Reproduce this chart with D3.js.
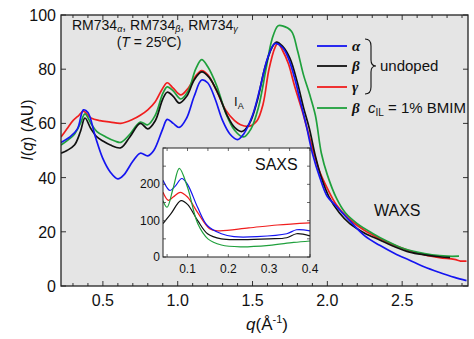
<!DOCTYPE html>
<html lang="en">
<head>
<meta charset="UTF-8">
<title>RM734 X-ray scattering</title>
<script src="https://d3js.org/d3.v7.min.js"></script>
<style>
  body { margin: 0; background: #fff; }
  svg { display: block; font-family: "Liberation Sans", Arial, sans-serif; }
  .tick-label { font-size: 16px; fill: #111; }
  .inset-label { font-size: 12px; fill: #111; }
  .greek { font-family: "Liberation Serif", serif; font-style: italic; font-weight: bold; font-size: 15px; }
</style>
</head>
<body>
<svg width="474" height="339"></svg>
<script>
// main WAXS curves, [q (1/A), I (AU)]
const alphaMain = [[0.22,53],[0.28,55],[0.33,58],[0.37,65],[0.40,64],[0.45,55],[0.50,47],[0.55,42],[0.60,39.5],[0.64,41],
  [0.70,46],[0.75,49],[0.80,48],[0.84,50],[0.90,58],[0.93,61.5],[0.97,60],[1.01,58.5],[1.06,62],[1.11,70],[1.16,76],
  [1.20,75],[1.25,69],[1.30,61],[1.35,56],[1.40,54],[1.44,56],[1.50,63],[1.55,73],[1.60,84],[1.65,89.5],[1.70,88],
  [1.74,84],[1.78,77],[1.82,68],[1.86,59],[1.90,49],[1.95,40],[2.00,33],[2.05,30],[2.10,27],[2.15,24],[2.25,18.5],
  [2.35,15],[2.45,12],[2.55,9.5],[2.65,7],[2.75,5],[2.85,3.2],[2.93,2]];
const betaMain = [[0.22,49],[0.26,50],[0.31,52],[0.35,57],[0.38,62],[0.42,58],[0.46,55],[0.50,53.5],[0.55,52],[0.62,51],
  [0.68,55],[0.75,60],[0.80,58],[0.85,61],[0.90,69],[0.93,71.5],[0.97,70],[1.01,67.5],[1.06,70],[1.11,76],[1.16,79],
  [1.21,77],[1.27,71],[1.33,63],[1.38,58.5],[1.43,57],[1.48,60],[1.53,68],[1.58,80],[1.63,88],[1.66,90],[1.70,88.5],
  [1.75,84],[1.80,75],[1.84,66],[1.88,58],[1.92,48],[1.96,40],[2.01,33],[2.08,27],[2.15,23],[2.25,19.5],[2.35,17],
  [2.45,14.5],[2.55,12.5],[2.65,11.5],[2.75,10.8],[2.82,10.5]];
const gammaMain = [[0.22,55],[0.26,58],[0.30,61],[0.34,63],[0.37,64.5],[0.42,62],[0.48,61],[0.55,60.5],[0.62,60],[0.70,61.5],
  [0.75,63],[0.80,65],[0.85,68],[0.90,73],[0.93,75],[0.97,73],[1.02,70.5],[1.07,73],[1.12,77.5],[1.16,79.5],[1.20,78],
  [1.26,72],[1.32,65],[1.38,61],[1.42,59.5],[1.48,59],[1.53,61],[1.57,67],[1.61,80],[1.65,88],[1.67,89.5],[1.70,87],
  [1.74,82],[1.78,74],[1.83,65],[1.87,57],[1.91,49],[1.95,42],[2.00,36],[2.06,30],[2.14,25],[2.25,20.5],[2.35,17.5],
  [2.45,15],[2.55,13],[2.65,11.5],[2.75,10.5],[2.85,9.8],[2.89,9.2],[2.93,9.2]];
const betaILMain = [[0.22,52],[0.27,54],[0.31,56],[0.35,60],[0.38,63.5],[0.42,60],[0.46,57],[0.52,55],[0.58,53.5],[0.62,53],
  [0.68,56],[0.75,60.5],[0.80,59.5],[0.85,63],[0.90,71],[0.93,73.5],[0.97,72],[1.02,69],[1.07,72],[1.12,80],[1.16,83.5],
  [1.20,81],[1.26,74],[1.32,64],[1.38,57.5],[1.44,55],[1.49,58],[1.54,66],[1.59,80],[1.63,91],[1.67,96],[1.70,96],
  [1.76,94],[1.80,87],[1.84,78],[1.88,71],[1.92,63],[1.96,49],[2.00,41],[2.06,32.5],[2.12,27],[2.20,23],[2.30,19.5],
  [2.40,16.5],[2.50,14],[2.60,12.5],[2.70,11.5],[2.80,11],[2.88,11]];

// SAXS inset curves
const alphaInset = [[0.04,211],[0.057,183],[0.07,195],[0.086,216],[0.10,200],[0.125,136],[0.149,86],[0.183,64],[0.214,56],
  [0.27,56],[0.343,64],[0.367,75],[0.40,72]];
const betaInset = [[0.04,92],[0.06,120],[0.084,155],[0.10,145],[0.125,100],[0.149,64],[0.183,50],[0.23,48],[0.30,50],
  [0.343,53],[0.367,64],[0.40,58]];
const gammaInset = [[0.04,178],[0.053,156],[0.065,165],[0.082,178],[0.10,165],[0.125,122],[0.154,78],[0.175,72],[0.25,80],
  [0.32,88],[0.40,94]];
const betaILInset = [[0.04,155],[0.05,137],[0.065,190],[0.08,244],[0.10,192],[0.125,92],[0.15,50],[0.183,33],[0.23,28],
  [0.30,32],[0.36,40],[0.40,44]];

const mainXTicks = [0.5, 1.0, 1.5, 2.0, 2.5];
const mainYTicks = [0, 20, 40, 60, 80, 100];
const insetXTicks = [0.1, 0.2, 0.3, 0.4];
const insetYTicks = [0, 100, 200];

const colors = { alpha: "#1515f0", beta: "#111111", gamma: "#f01e1e", betaIL: "#1fa03c" };

const svg = d3.select("svg");
const m = { left: 61, right: 468, top: 15, bottom: 286 };

const x = d3.scaleLinear().domain([0.22, 2.94]).range([m.left, m.right]);
const y = d3.scaleLinear().domain([0, 100]).range([m.bottom, m.top]);

svg.append("rect")
  .attr("x", m.left).attr("y", m.top)
  .attr("width", m.right - m.left).attr("height", m.bottom - m.top)
  .attr("fill", "#e5e5e5");

svg.append("clipPath").attr("id", "mainClip")
  .append("rect").attr("x", m.left).attr("y", m.top)
  .attr("width", m.right - m.left).attr("height", m.bottom - m.top);

const line = d3.line().x(d => x(d[0])).y(d => y(d[1])).curve(d3.curveCatmullRom.alpha(0.5));

const mainG = svg.append("g").attr("clip-path", "url(#mainClip)");
[[gammaMain, colors.gamma], [betaILMain, colors.betaIL], [betaMain, colors.beta], [alphaMain, colors.alpha]]
  .forEach(([data, c]) => {
    mainG.append("path").datum(data).attr("d", line)
      .attr("fill", "none").attr("stroke", c).attr("stroke-width", 1.7);
  });

// ticks, inward
const tickG = svg.append("g").attr("stroke", "#333").attr("stroke-width", 1);
d3.range(0.3, 2.95, 0.1).forEach(v => {
  const major = mainXTicks.some(t => Math.abs(t - v) < 1e-6);
  const len = major ? 5 : 3;
  tickG.append("line").attr("x1", x(v)).attr("x2", x(v)).attr("y1", m.bottom).attr("y2", m.bottom - len);
  tickG.append("line").attr("x1", x(v)).attr("x2", x(v)).attr("y1", m.top).attr("y2", m.top + len);
});
mainYTicks.forEach(v => {
  tickG.append("line").attr("x1", m.left).attr("x2", m.left + 5).attr("y1", y(v)).attr("y2", y(v));
  tickG.append("line").attr("x1", m.right).attr("x2", m.right - 5).attr("y1", y(v)).attr("y2", y(v));
});

svg.append("rect")
  .attr("x", m.left).attr("y", m.top)
  .attr("width", m.right - m.left).attr("height", m.bottom - m.top)
  .attr("fill", "none").attr("stroke", "#222").attr("stroke-width", 1.3);

svg.selectAll(".xl").data(mainXTicks).enter().append("text")
  .attr("class", "tick-label").attr("x", d => x(d)).attr("y", 306)
  .attr("text-anchor", "middle").text(d => d.toFixed(1));
svg.selectAll(".yl").data(mainYTicks).enter().append("text")
  .attr("class", "tick-label").attr("x", 56).attr("y", d => y(d) + 6)
  .attr("text-anchor", "end").text(d => d);

// axis titles
const yt = svg.append("text").attr("transform", "translate(33,130) rotate(-90)")
  .attr("text-anchor", "middle").attr("font-size", 16).attr("fill", "#111");
yt.append("tspan").attr("font-style", "italic").text("I");
yt.append("tspan").text("(");
yt.append("tspan").attr("font-style", "italic").text("q");
yt.append("tspan").text(") (AU)");

const xt = svg.append("text").attr("x", 267).attr("y", 330)
  .attr("text-anchor", "middle").attr("font-size", 17).attr("fill", "#111");
xt.append("tspan").attr("font-style", "italic").text("q");
xt.append("tspan").text("(Å");
xt.append("tspan").attr("font-size", 11).attr("dy", -7).text("-1");
xt.append("tspan").attr("dy", 7).text(")");

// title annotation
const t1 = svg.append("text").attr("x", 72).attr("y", 30).attr("font-size", 14).attr("fill", "#111");
[["α", "RM734"], ["β", ", RM734"], ["γ", ", RM734"]].forEach(([g, s], i) => {
  t1.append("tspan").attr("dy", i ? -2 : 0).text(s);
  t1.append("tspan").attr("font-size", 9).attr("font-style", "italic").attr("dy", 2).text(g);
});
const t2 = svg.append("text").attr("x", 149).attr("y", 47).attr("text-anchor", "middle")
  .attr("font-size", 14).attr("fill", "#111");
t2.append("tspan").text("(");
t2.append("tspan").attr("font-style", "italic").text("T");
t2.append("tspan").text(" = 25ºC)");

const ia = svg.append("text").attr("x", 234).attr("y", 106).attr("font-size", 13).attr("fill", "#111");
ia.append("tspan").text("I");
ia.append("tspan").attr("font-size", 9).attr("dy", 3).text("A");

svg.append("text").attr("x", 374).attr("y", 216).attr("font-size", 16).attr("fill", "#111").text("WAXS");

// legend
const legend = [
  { sym: "α", color: colors.alpha, y: 46 },
  { sym: "β", color: colors.beta, y: 66 },
  { sym: "γ", color: colors.gamma, y: 87 },
  { sym: "β", color: colors.betaIL, y: 108 }
];
legend.forEach(d => {
  svg.append("line").attr("x1", 317).attr("x2", 347).attr("y1", d.y).attr("y2", d.y)
    .attr("stroke", d.color).attr("stroke-width", 1.8);
  svg.append("text").attr("class", "greek").attr("x", 352).attr("y", d.y + 5).attr("fill", "#111").text(d.sym);
});
svg.append("path")
  .attr("d", "M365,39 Q371,39 371,46 L371,60 Q371,66 376,66 Q371,66 371,72 L371,87 Q371,94 365,94")
  .attr("fill", "none").attr("stroke", "#111").attr("stroke-width", 1.1);
svg.append("text").attr("x", 380).attr("y", 71).attr("font-size", 15).attr("fill", "#111").text("undoped");
const cil = svg.append("text").attr("x", 368).attr("y", 113).attr("font-size", 15).attr("fill", "#111");
cil.append("tspan").attr("font-style", "italic").text("c");
cil.append("tspan").attr("font-size", 10).attr("dy", 3).text("IL");
cil.append("tspan").attr("dy", -3).text(" = 1% BMIM");

// inset SAXS
const im = { left: 163, right: 310, top: 148, bottom: 257 };
const xi = d3.scaleLinear().domain([0.04, 0.4]).range([im.left, im.right]);
const yi = d3.scaleLinear().domain([0, 300]).range([im.bottom, im.top]);

svg.append("rect").attr("x", im.left).attr("y", im.top)
  .attr("width", im.right - im.left).attr("height", im.bottom - im.top).attr("fill", "#fff");
svg.append("clipPath").attr("id", "insetClip")
  .append("rect").attr("x", im.left).attr("y", im.top)
  .attr("width", im.right - im.left).attr("height", im.bottom - im.top);

const lineI = d3.line().x(d => xi(d[0])).y(d => yi(d[1])).curve(d3.curveCatmullRom.alpha(0.5));
const insetG = svg.append("g").attr("clip-path", "url(#insetClip)");
[[gammaInset, colors.gamma], [alphaInset, colors.alpha], [betaInset, colors.beta], [betaILInset, colors.betaIL]]
  .forEach(([data, c]) => {
    insetG.append("path").datum(data).attr("d", lineI)
      .attr("fill", "none").attr("stroke", c).attr("stroke-width", 1.2);
  });

const itG = svg.append("g").attr("stroke", "#444").attr("stroke-width", 0.8);
d3.range(0.05, 0.401, 0.05).forEach(v => {
  itG.append("line").attr("x1", xi(v)).attr("x2", xi(v)).attr("y1", im.bottom).attr("y2", im.bottom - 3);
  itG.append("line").attr("x1", xi(v)).attr("x2", xi(v)).attr("y1", im.top).attr("y2", im.top + 3);
});
d3.range(0, 301, 50).forEach(v => {
  itG.append("line").attr("x1", im.left).attr("x2", im.left + 3).attr("y1", yi(v)).attr("y2", yi(v));
  itG.append("line").attr("x1", im.right).attr("x2", im.right - 3).attr("y1", yi(v)).attr("y2", yi(v));
});
svg.append("rect").attr("x", im.left).attr("y", im.top)
  .attr("width", im.right - im.left).attr("height", im.bottom - im.top)
  .attr("fill", "none").attr("stroke", "#222").attr("stroke-width", 1);

svg.selectAll(".ixl").data(insetXTicks).enter().append("text")
  .attr("class", "inset-label").attr("x", d => xi(d)).attr("y", 273)
  .attr("text-anchor", "middle").text(d => d.toFixed(1));
svg.selectAll(".iyl").data(insetYTicks).enter().append("text")
  .attr("class", "inset-label").attr("x", 160).attr("y", d => yi(d) + 4)
  .attr("text-anchor", "end").text(d => d);

svg.append("text").attr("x", 255).attr("y", 170).attr("font-size", 16).attr("fill", "#111").text("SAXS");
</script>
</body>
</html>
